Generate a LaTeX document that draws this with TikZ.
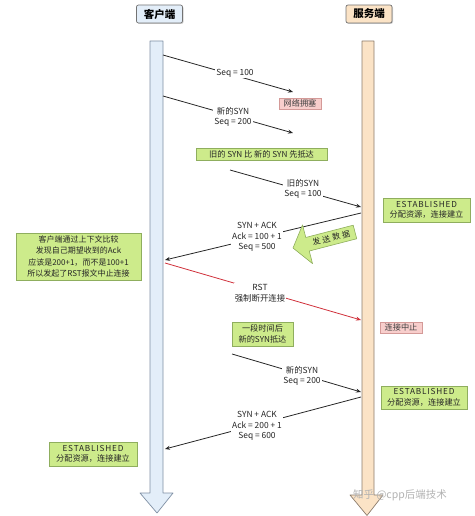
\documentclass[tikz,border=0pt]{standalone}
\usepackage{fontspec}
\setmainfont{Noto Sans CJK SC}
\newfontfamily\estfont[LetterSpace=10]{Noto Sans CJK SC}
\newfontfamily\sendfont[LetterSpace=28]{Noto Sans CJK SC}
\usetikzlibrary{arrows.meta,shadows}
\definecolor{gfill}{HTML}{CDEB8B}
\definecolor{gdraw}{HTML}{8FAE5E}
\definecolor{pfill}{HTML}{F8CECC}
\definecolor{pdraw}{HTML}{D49A98}
\definecolor{bfill}{HTML}{E3EEF9}
\definecolor{bdraw}{HTML}{7F8FA3}
\definecolor{ofill}{HTML}{FBE3C6}
\definecolor{odraw}{HTML}{8C7C6C}
\definecolor{rline}{HTML}{D0303A}
\newcommand{\estw}{{\estfont ESTABLISHED}}
\tikzset{
  msg/.style={draw=black!85, line width=0.8pt, -{Stealth[length=5pt,width=4pt]}},
  rstmsg/.style={draw=rline, line width=0.8pt, -{Stealth[length=5pt,width=4pt]}},
  lbl/.style={fill=white, inner sep=1pt, align=center, font=\fontsize{8.4}{10.5}\selectfont, text=black!85},
  gbox/.style={draw=gdraw, fill=gfill, line width=0.6pt, inner sep=1pt, align=center, font=\fontsize{8.2}{10.5}\selectfont, text=black!85},
  pbox/.style={draw=pdraw, fill=pfill, line width=0.6pt, inner sep=1pt, align=center, font=\fontsize{8.2}{10}\selectfont, text=black!75},
  titlebox/.style={draw=black!55, rounded corners=2pt, line width=0.7pt, inner sep=0pt,
    minimum width=46pt, minimum height=18pt, font=\bfseries\fontsize{10.5}{12}\selectfont,
    drop shadow={shadow xshift=1pt, shadow yshift=-1pt, opacity=0.35}},
  life/.style={line width=0.7pt, line join=round}
}
\begin{document}
\begin{tikzpicture}[x=1pt,y=-1pt]
\useasboundingbox (0,0) rectangle (474,516);
% titles
\node[titlebox, fill=bfill] (client) at (159.5,14) {客户端};
\node[titlebox, fill=ofill] (server) at (369,14) {服务端};
% lifelines
\draw[life, draw=bdraw, fill=bfill] (150,41) -- (163,41) -- (163,493) -- (173,493) -- (157,513) -- (140,493) -- (150,493) -- cycle;
\draw[life, draw=odraw, fill=ofill] (362,41) -- (374,41) -- (374,495) -- (383,495) -- (367,515.5) -- (350,495) -- (362,495) -- cycle;
% endpoints
\coordinate (c1) at (163,55);   \coordinate (x1) at (293,92);
\coordinate (c2) at (163,96);   \coordinate (x2) at (293,133);
\coordinate (o3) at (230,170);  \coordinate (s3) at (361,207);
\coordinate (s4) at (361,213);  \coordinate (c4) at (165,260);
\coordinate (c5) at (165,263);  \coordinate (s5) at (361,320);
\coordinate (o6) at (232,354);  \coordinate (s6) at (361,392);
\coordinate (s7) at (361,397);  \coordinate (c7) at (165,449);
% messages
\draw[msg] (c1) -- (x1);
\node[lbl] (l1) at (235,73) {Seq = 100};
\draw[msg] (c2) -- (x2);
\node[lbl] (l2) at (233,117) {新的SYN\\Seq = 200};
\draw[msg] (o3) -- (s3);
\node[lbl] (l3) at (303,189) {旧的SYN\\Seq = 100};
\draw[msg] (s4) -- (c4);
\node[lbl] (l4) at (257,237) {SYN + ACK\\Ack = 100 + 1\\Seq = 500};
\draw[rstmsg] (c5) -- (s5);
\node[lbl] (l5) at (260,293) {RST\\强制断开连接};
\draw[msg] (o6) -- (s6);
\node[lbl] (l6) at (302,376) {新的SYN\\Seq = 200};
\draw[msg] (s7) -- (c7);
\node[lbl] (l7) at (257,426) {SYN + ACK\\Ack = 200 + 1\\Seq = 600};
% notes
\node[pbox, minimum width=42pt, minimum height=11pt] (jam) at (300,103.5) {网络拥塞};
\node[gbox, minimum width=131pt, minimum height=12pt] (n1) at (261.5,154) {旧的 SYN 比 新的 SYN 先抵达};
\node[gbox, minimum width=87pt, minimum height=24pt] (e1) at (426.5,210) {\estw\\分配资源，连接建立};
\node[gbox, minimum width=125pt, minimum height=47pt, font=\fontsize{8}{11.3}\selectfont] (n2) at (78.5,256.5) {客户端通过上下文比较\\发现自己期望收到的Ack\\应该是200+1，而不是100+1\\所以发起了RST报文中止连接};
\node[pbox, minimum width=42pt, minimum height=11pt] (abort) at (401,327.5) {连接中止};
\node[gbox, minimum width=61pt, minimum height=24pt] (n3) at (262.5,334) {一段时间后\\新的SYN抵达};
\node[gbox, minimum width=86pt, minimum height=23pt] (e2) at (424,397.5) {\estw\\分配资源，连接建立};
\node[gbox, minimum width=88pt, minimum height=24pt] (e3) at (93,454) {\estw\\分配资源，连接建立};
% big green arrow
\begin{scope}[shift={(293,248)}, rotate=14.5]
  \draw[draw=gdraw, fill=gfill, line width=0.6pt, line join=round]
    (0,0) -- (15,-20) -- (15,-7) -- (64,-7) -- (64,7) -- (15,7) -- (15,20) -- cycle;
  \node[rotate=14.5, inner sep=0pt, font=\sendfont\fontsize{8}{10}\selectfont, text=black!85] (send) at (39.5,0) {发送数据};
\end{scope}
% watermark
\node[text=black!30, font=\fontsize{10.5}{12}\selectfont] (wm) at (400,495) {知乎 @cpp后端技术};
\end{tikzpicture}
\end{document}
